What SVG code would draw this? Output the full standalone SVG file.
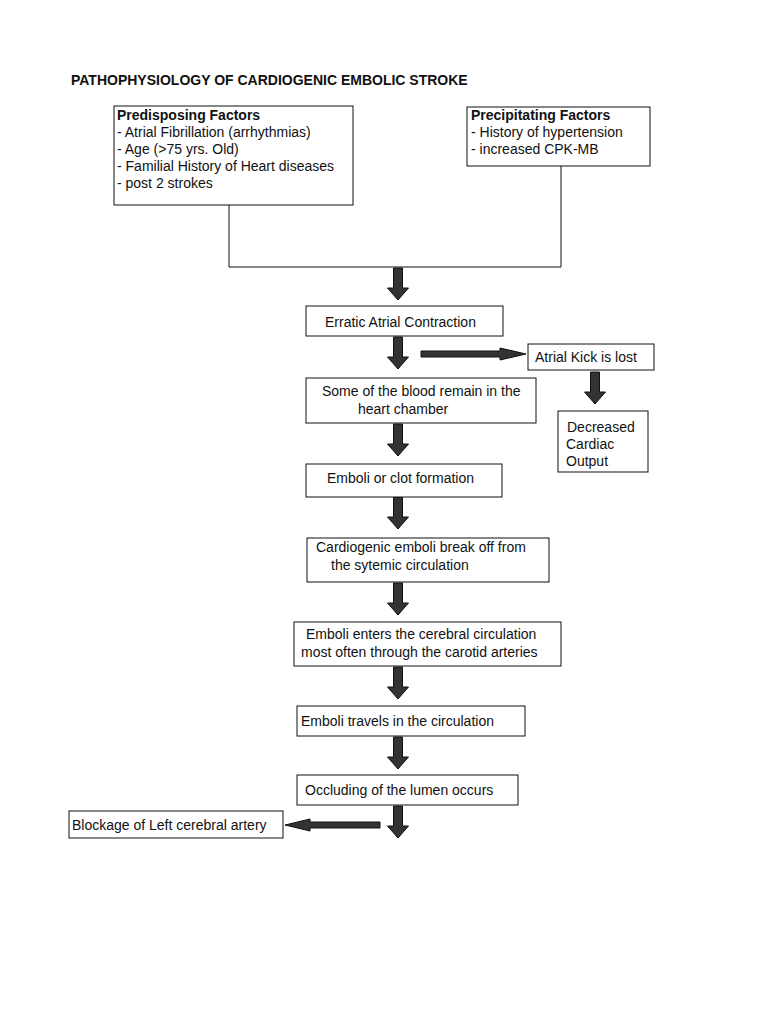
<svg xmlns="http://www.w3.org/2000/svg" width="768" height="1024" viewBox="0 0 768 1024">
<style>
text{font-family:"Liberation Sans",Arial,sans-serif;font-size:14px;fill:#111}
.b{font-weight:bold}
rect{fill:#fff;stroke:#111;stroke-width:1}
.ar{fill:#333;stroke:#111;stroke-width:1}
</style>
<defs>
<path id="dn" class="ar" d="M-4.5,0 H4.5 V20 H10.5 L0,32 L-10.5,20 H-4.5 Z"/>
</defs>
<rect width="768" height="1024" style="stroke:none"/>
<text x="71" y="85" class="b">PATHOPHYSIOLOGY OF CARDIOGENIC EMBOLIC STROKE</text>
<g id="connectors">
<polyline points="229,205 229,267 561,267 561,166" fill="none" stroke="#111"/>
<use href="#dn" x="398" y="268"/>
<use href="#dn" x="398" y="337"/>
<use href="#dn" x="398" y="424"/>
<use href="#dn" x="398" y="497"/>
<use href="#dn" x="398" y="583"/>
<use href="#dn" x="398" y="667"/>
<use href="#dn" x="398" y="737"/>
<use href="#dn" x="398" y="806"/>
<use href="#dn" x="595" y="372"/>
<path class="ar" d="M421,351 H500 V348 L526,354 L500,360 V357 H421 Z"/>
<path class="ar" d="M380,822 H310 V819 L285,825 L310,831 V828 H380 Z"/>
</g>
<g id="n1"><rect x="114" y="106" width="239" height="99"/>
<text x="117" y="120" class="b">Predisposing Factors</text>
<text x="117" y="137">- Atrial Fibrillation (arrhythmias)</text>
<text x="117" y="154">- Age (&gt;75 yrs. Old)</text>
<text x="117" y="171">- Familial History of Heart diseases</text>
<text x="117" y="188">- post 2 strokes</text></g>
<g id="n2"><rect x="467" y="107" width="183" height="59"/>
<text x="471" y="120" class="b">Precipitating Factors</text>
<text x="471" y="137">- History of hypertension</text>
<text x="471" y="154">- increased CPK-MB</text></g>
<g id="n3"><rect x="306" y="306" width="197" height="30"/><text x="325" y="327">Erratic Atrial Contraction</text></g>
<g id="n4"><rect x="528" y="344" width="126" height="26"/><text x="535" y="362">Atrial Kick is lost</text></g>
<g id="n5"><rect x="306" y="378" width="230" height="45"/><text x="322" y="396">Some of the blood remain in the</text><text x="358" y="414">heart chamber</text></g>
<g id="n6"><rect x="558" y="411" width="90" height="61"/><text x="567" y="432">Decreased</text><text x="566" y="449">Cardiac</text><text x="566" y="466">Output</text></g>
<g id="n7"><rect x="306" y="464" width="196" height="33"/><text x="327" y="483">Emboli or clot formation</text></g>
<g id="n8"><rect x="307" y="538" width="242" height="44"/><text x="316" y="552">Cardiogenic emboli break off from</text><text x="331" y="570">the sytemic circulation</text></g>
<g id="n9"><rect x="294" y="622" width="267" height="44"/><text x="306" y="639">Emboli enters the cerebral circulation</text><text x="301" y="657">most often through the carotid arteries</text></g>
<g id="n10"><rect x="297" y="706" width="228" height="30"/><text x="301" y="726">Emboli travels in the circulation</text></g>
<g id="n11"><rect x="297" y="775" width="221" height="30"/><text x="305" y="795">Occluding of the lumen occurs</text></g>
<g id="n12"><rect x="69" y="811" width="214" height="27"/><text x="72" y="830">Blockage of Left cerebral artery</text></g>
</svg>
